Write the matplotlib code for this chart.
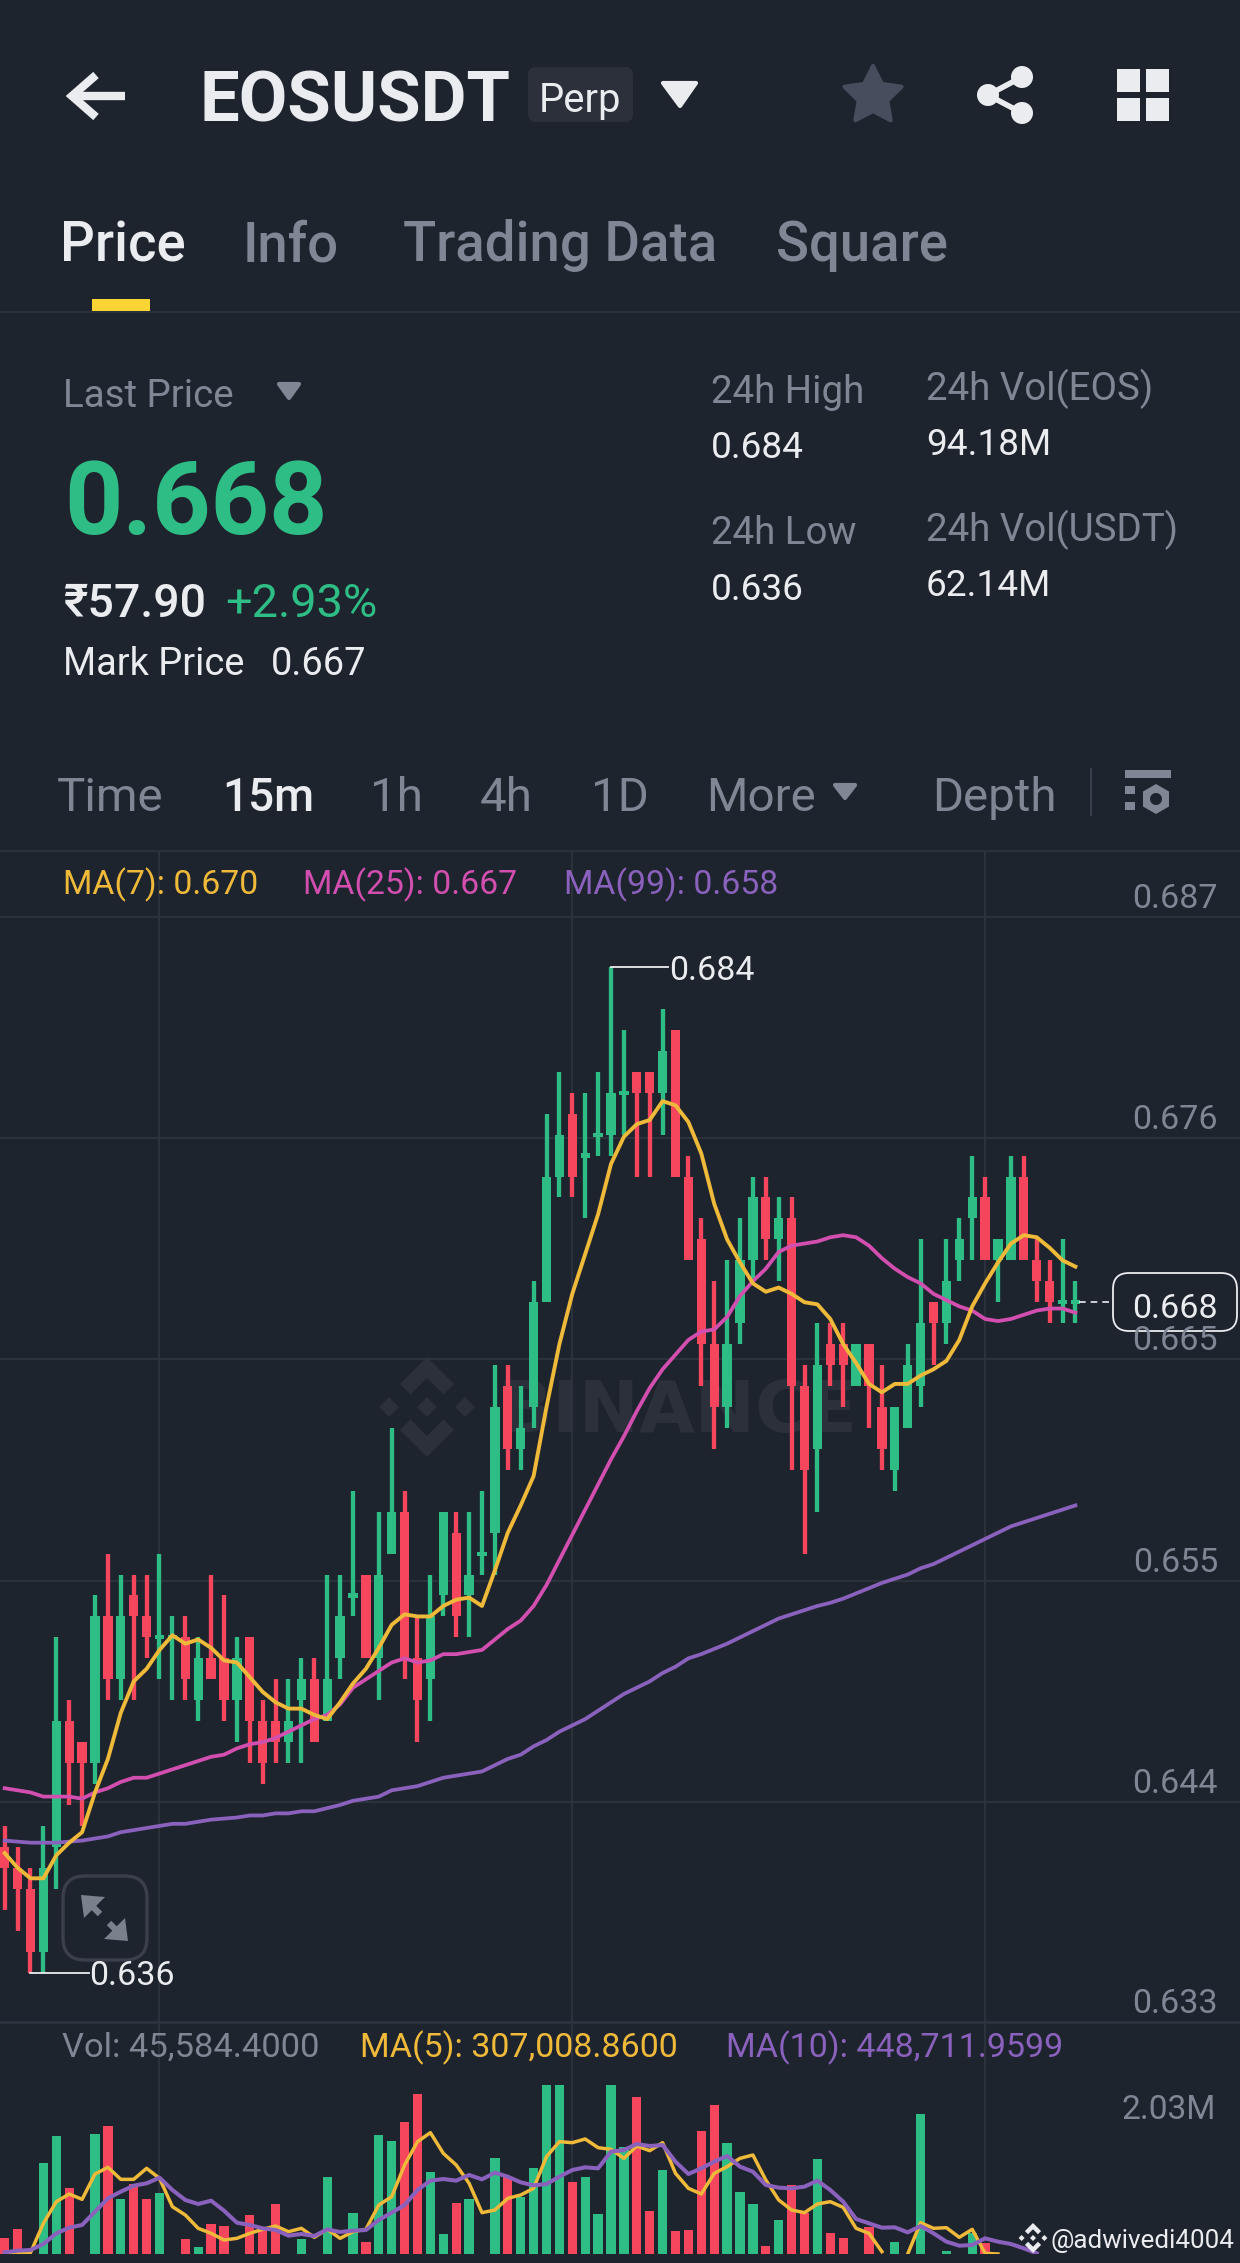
import matplotlib

matplotlib.use("Agg")
import matplotlib.pyplot as plt
import numpy as np
from matplotlib.patches import Circle, FancyBboxPatch, Polygon, Rectangle

plt.rcParams["font.family"] = ["Roboto", "DejaVu Sans"]

WIDTH, HEIGHT = 1240, 2263

BG = "#1e242e"
GRID = "#2f3540"
GREEN = "#2ebd85"
RED = "#f6465d"
YELLOW = "#efb93a"
MAGENTA = "#d24fb0"
PURPLE = "#8a62bd"
WHITE = "#eaecef"
GREY = "#7f8795"

# candles, price in 1/1000 USDT
opens = [642, 641, 640, 637, 642, 648, 647, 646, 653, 650, 654, 653, 652, 652, 652, 649, 651, 651, 649, 652, 648,
         648, 647, 649, 650, 648, 651, 654, 655, 651, 656, 658, 651, 650, 654, 657, 654, 656, 657, 664, 661, 663,
         668, 674, 677, 675, 676, 676, 678, 679, 679, 678, 681, 674, 671, 666, 663, 667, 670, 673, 671, 672, 664,
         661, 666, 666, 664, 666, 663, 660, 662, 664, 668, 667, 670, 672, 673, 670, 670, 674, 670, 669, 668, 668]
closes = [641, 640, 637, 641, 648, 646, 646, 653, 650, 653, 653, 652, 652, 652, 650, 651, 650, 649, 651, 648, 646,
          647, 648, 650, 647, 650, 653, 654, 651, 655, 658, 651, 649, 653, 658, 653, 655, 656, 663, 661, 662, 668,
          674, 676, 674, 675, 676, 678, 678, 678, 678, 680, 674, 670, 666, 663, 666, 670, 673, 671, 672, 664, 660,
          665, 665, 665, 666, 664, 661, 663, 665, 667, 667, 669, 671, 673, 670, 671, 674, 670, 669, 668, 668, 668]
highs = [643, 642, 641, 643, 652, 649, 647, 654, 656, 655, 655, 655, 656, 653, 653, 652, 655, 654, 652, 652, 649,
         650, 650, 651, 651, 655, 655, 659, 655, 658, 662, 659, 653, 655, 658, 658, 658, 659, 665, 665, 664, 669,
         677, 679, 678, 678, 679, 684, 681, 679, 679, 682, 681, 675, 672, 669, 670, 672, 674, 674, 673, 673, 665,
         667, 667, 667, 666, 666, 665, 663, 666, 671, 668, 671, 672, 675, 674, 671, 675, 675, 671, 670, 671, 669]
lows = [639, 638, 636, 636, 640, 644, 643, 645, 649, 649, 649, 651, 650, 649, 649, 648, 650, 648, 647, 646, 645,
        646, 646, 646, 647, 648, 650, 653, 651, 649, 656, 650, 647, 648, 653, 652, 652, 655, 655, 660, 660, 662,
        668, 673, 673, 672, 675, 675, 676, 674, 674, 676, 674, 670, 664, 661, 662, 666, 669, 670, 669, 660, 656,
        658, 664, 663, 664, 662, 660, 659, 662, 663, 665, 666, 669, 670, 670, 668, 670, 670, 668, 667, 667, 667]

ma7 = [641.7, 641.0, 640.5, 640.5, 641.6, 642.2, 642.7, 644.6, 646.2, 648.4, 649.9, 650.5, 651.4, 652.1, 651.7,
       651.9, 651.5, 650.9, 650.8, 650.1, 649.4, 648.9, 648.6, 648.6, 648.3, 648.1, 648.9, 649.8, 650.5, 651.5,
       652.6, 653.1, 653.0, 653.0, 653.5, 653.8, 653.9, 653.5, 655.2, 657.0, 658.3, 659.7, 663.0, 666.0, 668.4,
       670.3, 672.2, 674.6, 675.9, 676.5, 676.7, 677.6, 677.4, 676.6, 675.1, 672.7, 671.0, 669.9, 668.9, 668.5,
       668.7, 668.4, 668.0, 667.9, 667.2, 666.0, 665.1, 664.1, 663.7, 664.1, 664.1, 664.5, 664.8, 665.2, 666.2,
       667.8, 668.9, 669.9, 670.8, 671.2, 671.1, 670.6, 670.0, 669.7]
ma25 = [644.8, 644.7, 644.6, 644.4, 644.4, 644.4, 644.3, 644.6, 644.8, 645.1, 645.3, 645.3, 645.5, 645.7, 645.9,
        646.1, 646.3, 646.4, 646.7, 646.9, 647.0, 647.2, 647.5, 647.8, 648.1, 648.3, 648.8, 649.6, 650.0, 650.4,
        650.8, 651.0, 650.8, 650.9, 651.2, 651.2, 651.3, 651.4, 651.9, 652.4, 652.8, 653.5, 654.5, 655.7, 656.9,
        658.1, 659.3, 660.5, 661.6, 662.8, 663.9, 664.8, 665.5, 666.2, 666.6, 666.7, 667.3, 668.3, 669.0, 669.6,
        670.4, 670.7, 670.8, 670.9, 671.1, 671.2, 671.1, 670.7, 670.1, 669.6, 669.2, 668.9, 668.4, 668.1, 667.8,
        667.6, 667.2, 667.1, 667.2, 667.4, 667.6, 667.7, 667.7, 667.5]
ma99 = [642.3, 642.25, 642.2, 642.2, 642.2, 642.25, 642.3, 642.4, 642.5, 642.7, 642.8, 642.9, 643.0, 643.1, 643.1,
        643.2, 643.3, 643.35, 643.4, 643.5, 643.5, 643.6, 643.6, 643.7, 643.7, 643.85, 644.0, 644.2, 644.3, 644.4,
        644.7, 644.8, 644.9, 645.1, 645.3, 645.4, 645.5, 645.6, 645.9, 646.2, 646.4, 646.8, 647.1, 647.5, 647.8,
        648.1, 648.5, 648.9, 649.3, 649.6, 649.9, 650.3, 650.6, 651.0, 651.2, 651.45, 651.7, 652.0, 652.3, 652.6,
        652.9, 653.1, 653.3, 653.5, 653.65, 653.85, 654.1, 654.35, 654.6, 654.8, 655.0, 655.3, 655.5, 655.8, 656.1,
        656.4, 656.7, 657.0, 657.3, 657.5, 657.7, 657.9, 658.1, 658.3]

# volume in millions, the chart baseline cuts the small ones off
volumes = [0.235, 0.37, 0, 1.37, 1.775, 0.99, 0, 1.795, 1.925, 0.83, 1.05, 0.82, 0.91, 0, 0.23, 0.11, 0.45, 0.42, 0,
           0.59, 0.385, 0.75, 0, 0.23, 0, 1.15, 0, 0.62, 0.175, 1.79, 1.69, 1.98, 2.40, 1.235, 0.305, 0.765, 0.825,
           0, 1.44, 1.15, 0.86, 1.285, 2.535, 2.535, 1.08, 1.15, 0.6, 2.535, 1.61, 2.36, 0.64, 1.265, 0.345, 0.36,
           1.845, 2.235, 1.66, 0.925, 0.745, 0.125, 0.51, 1.035, 0.61, 1.42, 0.31, 0.235, 0, 0.4, 0, 0.185, 0, 2.1,
           0, 0.04, 0, 0.31, 0.17, 0, 0, 0, 0, 0, 0, 0]
vol_ma5 = [0.01, 0.02, 0.02, 0.46, 0.785, 0.9, 0.82, 1.2, 1.3, 1.12, 1.12, 1.285, 1.135, 0.71, 0.585, 0.385, 0.31,
           0.21, 0.235, 0.31, 0.37, 0.42, 0.335, 0.385, 0.25, 0.37, 0.235, 0.335, 0.37, 0.735, 0.86, 1.335, 1.685,
           1.82, 1.51, 1.335, 1.06, 0.62, 0.66, 0.835, 0.885, 0.985, 1.46, 1.685, 1.67, 1.725, 1.595, 1.57, 1.435,
           1.62, 1.55, 1.67, 1.21, 0.985, 0.9, 1.21, 1.31, 1.435, 1.485, 1.11, 0.81, 0.66, 0.62, 0.75, 0.785, 0.7,
           0.385, 0.31, 0.035, np.nan, 0, 0.47, 0.385, 0.395, 0.25, 0.37, 0.01, 0, np.nan, np.nan, np.nan, np.nan,
           np.nan, np.nan]
vol_ma10 = [0.025, 0.05, 0.06, 0.15, 0.31, 0.395, 0.435, 0.635, 0.835, 0.935, 1.025, 1.06, 1.145, 0.96, 0.81, 0.75,
            0.8, 0.65, 0.47, 0.435, 0.385, 0.36, 0.275, 0.3, 0.27, 0.37, 0.33, 0.35, 0.36, 0.51, 0.62, 0.735, 0.96,
            1.1, 1.125, 1.1, 1.185, 1.12, 1.22, 1.16, 1.075, 1.03, 1.05, 1.16, 1.26, 1.3, 1.285, 1.535, 1.56, 1.65,
            1.62, 1.635, 1.385, 1.2, 1.285, 1.385, 1.47, 1.31, 1.235, 1.035, 0.995, 0.985, 1.01, 1.1, 0.96, 0.785,
            0.525, 0.46, 0.395, 0.4, 0.325, 0.42, 0.31, 0.185, 0.125, 0.135, 0.235, 0.185, 0.15, 0.085, 0.01,
            np.nan, np.nan, np.nan]

grid_levels = [686.39, 675.84, 665.29, 654.69, 644.14]
grid_labels = ["0.687", "0.676", "0.665", "0.655", "0.644"]
grid_times = [11.96, 44.0, 76.0]
tabs = ["Price", "Info", "Trading Data", "Square"]
intervals = ["Time", "15m", "1h", "4h", "1D", "More", "Depth"]

opens, closes, highs, lows = map(np.array, (opens, closes, highs, lows))
idx = np.arange(len(opens))
colors = np.where(closes >= opens, GREEN, RED)

# one candle every 12.9 px, the first one 4.7 px from the left edge
xlim = (-4.7 / 12.9, (WIDTH - 4.7) / 12.9)


def strip_axes(top, bottom):
    ax = fig.add_axes([0, 1 - bottom / HEIGHT, 1, (bottom - top) / HEIGHT])
    ax.set_xlim(*xlim)
    ax.axis("off")
    return ax


def txt(x, y, s, size, color=WHITE, weight="normal", ha="left", **kwargs):
    # size is given in image pixels
    return over.text(x, y, s, fontsize=size * 0.72, color=color, fontweight=weight, ha=ha, va="baseline", **kwargs)


def draw_logo(ax, cx, cy, r, color, zorder=1):
    top = np.array([(0, 1), (0.54, 0.46), (0.33, 0.25), (0, 0.58), (-0.33, 0.25), (-0.54, 0.46)])
    dia = np.array([(0, 0.2), (0.2, 0), (0, -0.2), (-0.2, 0)])
    for shape in (top, top * [1, -1], dia, dia + [0.76, 0], dia - [0.76, 0]):
        ax.add_patch(Polygon(shape * r + [cx, cy], closed=True, fc=color, ec="none", zorder=zorder))


fig = plt.figure(figsize=(WIDTH / 100, HEIGHT / 100), dpi=100, facecolor=BG)

# price chart
ax = strip_axes(851, 2022)
ax.set_ylim(633.64, 689.54)
for level in grid_levels:
    ax.axhline(level, color=GRID, lw=1.2, zorder=1)
for t in grid_times:
    ax.axvline(t, color=GRID, lw=1.2, zorder=1)
ax.vlines(idx, lows, highs, colors=colors, lw=3.1, zorder=3)
body_low = np.minimum(opens, closes)
body_size = np.abs(closes - opens)
flat = body_size == 0
ax.bar(idx[~flat], body_size[~flat], bottom=body_low[~flat], width=0.72, color=colors[~flat], zorder=3)
ax.bar(idx[flat], 0.2, bottom=opens[flat] - 0.1, width=0.72, color=colors[flat], zorder=3)
ax.plot(idx, ma99, color=PURPLE, lw=2.7, zorder=4)
ax.plot(idx, ma25, color=MAGENTA, lw=2.7, zorder=4)
ax.plot(idx, ma7, color=YELLOW, lw=2.8, zorder=5)

# max and min markers
ax.plot([47, 47 + 4.4], [684, 684], color=WHITE, lw=1.3, zorder=5)
ax.plot([2, 2 + 4.5], [636, 636], color=WHITE, lw=1.3, zorder=5)
ax.plot([83.3, 83.3 + 2.9], [668, 668], color=WHITE, lw=1.2, ls=(0, (4, 3)), zorder=5)

# volume chart
vax = strip_axes(2023, 2254)
vax.set_ylim(0, 3.465)
for t in grid_times:
    vax.axvline(t, color=GRID, lw=1.2, zorder=1)
vax.bar(idx, volumes, width=0.72, color=colors, zorder=3)
vax.plot(idx, vol_ma5, color=YELLOW, lw=2.5, zorder=4)
vax.plot(idx, vol_ma10, color=PURPLE, lw=2.9, zorder=5)

# everything else sits on a pixel axes
over = fig.add_axes([0, 0, 1, 1], zorder=10)
over.set_xlim(0, WIDTH)
over.set_ylim(HEIGHT, 0)
over.axis("off")

under = fig.add_axes([0, 0, 1, 1], zorder=-1)
under.set_xlim(0, WIDTH)
under.set_ylim(HEIGHT, 0)
under.axis("off")
ax.set_zorder(2)
vax.set_zorder(2)
ax.patch.set_alpha(0)

# watermark under the candles
draw_logo(under, 427, 1407, 50, "#2b303b")
under.text(497, 1432, "BINANCE", fontsize=72 * 0.72, color="#2b303b", fontweight="bold", ha="left", va="baseline",
           family=["DejaVu Sans"])
for y in (851, 2023):
    under.plot([0, WIDTH], [y, y], color="#2b313b", lw=1.6)
under.plot([0, WIDTH], [2022, 2022], color=GRID, lw=1.2)
under.plot([0, WIDTH], [312, 312], color="#2b313b", lw=1.6)

# header
over.plot([125, 74], [96, 96], color=WHITE, lw=6, solid_capstyle="butt")
over.plot([96, 72, 96], [75, 96, 117], color=WHITE, lw=6, solid_joinstyle="miter", solid_capstyle="butt")
txt(200, 121, "EOSUSDT", 70.5, weight="bold")
over.add_patch(FancyBboxPatch((532, 71), 97, 47, boxstyle="round,pad=4,rounding_size=8", fc="#2b303b", ec="none"))
txt(539, 112, "Perp", 40)
over.add_patch(Polygon([(663, 83), (696, 83), (680, 106)], fc=WHITE, ec=WHITE, lw=3, joinstyle="round"))

angles = np.deg2rad(np.arange(10) * 36 - 90)
radii = np.where(np.arange(10) % 2 == 0, 30, 15)
star = np.column_stack([873 + radii * np.cos(angles), 96 + radii * np.sin(angles)])
over.add_patch(Polygon(star, fc="#474d5c", ec="#474d5c", lw=3, joinstyle="round"))

over.plot([1022, 988, 1022], [77, 95, 113], color=WHITE, lw=4)
for cx, cy in ((1022, 77), (988, 95), (1022, 113)):
    over.add_patch(Circle((cx, cy), 11, fc=WHITE, ec="none"))
for gx in (1117, 1146):
    for gy in (69, 98):
        over.add_patch(Rectangle((gx, gy), 23, 23, fc=WHITE, ec="none"))

# tabs
for x, label in zip((60, 243, 403, 776), tabs):
    txt(x, 261, label, 54.5, color=WHITE if label == "Price" else GREY, weight="medium")
over.add_patch(Rectangle((92, 299), 58, 12, fc="#fcd535", ec="none"))

# price summary
txt(63, 407, "Last Price", 38.5, color=GREY)
over.add_patch(Polygon([(279, 384), (299, 384), (289, 398)], fc=GREY, ec=GREY, lw=3, joinstyle="round"))
txt(64, 534, "0.668", 102, color=GREEN, weight="bold")
txt(63, 617, "₹57.90", 46.5, weight="medium")
txt(225, 617, "+2.93%", 47, color=GREEN)
txt(63, 675, "Mark Price", 38)
txt(271, 675, "0.667", 38)

txt(711, 403, "24h High", 38.5, color=GREY)
txt(711, 458, "0.684", 37)
txt(711, 544, "24h Low", 38.5, color=GREY)
txt(711, 600, "0.636", 37)
txt(926, 400, "24h Vol(EOS)", 38.5, color=GREY)
txt(926, 455, "94.18M", 37)
txt(926, 541, "24h Vol(USDT)", 38.5, color=GREY)
txt(926, 596, "62.14M", 37)

# interval bar
for x, label in zip((57, 222, 370, 480, 591, 706, 932), intervals):
    active = label == "15m"
    txt(x, 811, label, 46 if active else 47.5, color=WHITE if active else GREY, weight="medium" if active else "normal")
over.add_patch(Polygon([(835, 785), (855, 785), (845, 798)], fc=GREY, ec=GREY, lw=3, joinstyle="round"))
over.plot([1091, 1091], [769, 815], color="#3a404c", lw=1.5)
over.add_patch(Rectangle((1125, 770), 46, 8, fc=GREY, ec="none"))
over.add_patch(Rectangle((1125, 786), 10, 8, fc=GREY, ec="none"))
over.add_patch(Rectangle((1125, 802), 10, 8, fc=GREY, ec="none"))
hex_a = np.deg2rad(np.arange(6) * 60 + 30)
over.add_patch(Polygon(np.column_stack([1156 + 15 * np.cos(hex_a), 799 + 15 * np.sin(hex_a)]), fc=GREY, ec="none"))
over.add_patch(Circle((1156, 799), 6, fc=BG, ec="none"))

# indicator legends
txt(63, 894, "MA(7): 0.670", 33.8, color=YELLOW)
txt(303, 894, "MA(25): 0.667", 33.8, color=MAGENTA)
txt(564, 894, "MA(99): 0.658", 33.8, color=PURPLE)
txt(62, 2057, "Vol: 45,584.4000", 34.5, color=GREY)
txt(360, 2057, "MA(5): 307,008.8600", 34, color=YELLOW)
txt(726, 2057, "MA(10): 448,711.9599", 34, color=PURPLE)

# right hand scale
for label, y in zip(grid_labels + ["0.633"], (917, 1138, 1359, 1581, 1802, 2022)):
    txt(1218, y - 9, label, 34, color=GREY, ha="right")
txt(1216, 2119, "2.03M", 33.5, color=GREY, ha="right")

over.add_patch(FancyBboxPatch((1119, 1279), 112, 46, boxstyle="round,pad=6,rounding_size=16", fc=BG, ec=WHITE, lw=1.3))
txt(1218, 1318, "0.668", 34, ha="right")
txt(669, 980, "0.684", 34)
txt(89, 1985, "0.636", 34)

# expand button
over.add_patch(FancyBboxPatch((75, 1888), 60, 60, boxstyle="round,pad=12,rounding_size=22", fc="none", ec="#3a3f4b", lw=2.4))
over.add_patch(Polygon([(81, 1895), (105, 1897), (84, 1918)], fc="#7a808c", ec="none"))
over.add_patch(Polygon([(128, 1941), (104, 1939), (125, 1918)], fc="#7a808c", ec="none"))
over.plot([91, 100], [1905, 1914], color="#7a808c", lw=4.5, solid_capstyle="butt")
over.plot([109, 118], [1923, 1932], color="#7a808c", lw=4.5, solid_capstyle="butt")

# user tag
draw_logo(over, 1033, 2238, 15, WHITE)
txt(1051, 2248, "@adwivedi4004", 26)

fig.savefig("out.png", dpi=100, facecolor=BG)
